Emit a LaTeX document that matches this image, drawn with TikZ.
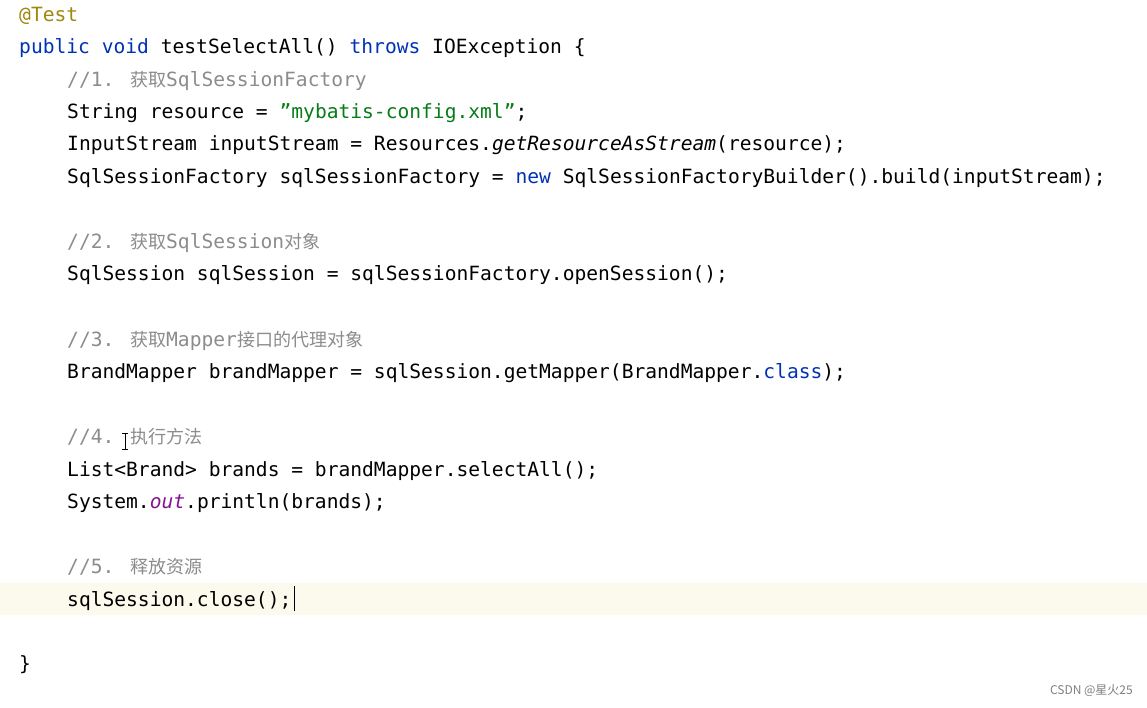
\documentclass[tikz,border=0pt]{standalone}
\usepackage{fontspec}
\setmainfont{DejaVu Sans Mono}[Ligatures=NoCommon]
\newfontfamily\cjk{Noto Sans CJK SC}[Scale=0.92]
\newfontfamily\wm{Noto Sans CJK SC}
\definecolor{ann}{HTML}{9E880D}
\definecolor{kw}{HTML}{0033B3}
\definecolor{str}{HTML}{067D17}
\definecolor{cmt}{HTML}{8C8C8C}
\definecolor{fld}{HTML}{871094}
\definecolor{hl}{HTML}{FCFAED}
\newcommand{\K}[1]{\textcolor{kw}{#1}}
\newcommand{\C}[1]{\textcolor{cmt}{#1}}
\newcommand{\Z}[1]{{\cjk #1}}
\begin{document}
\begin{tikzpicture}[x=1pt,y=-1pt,
  code/.style={anchor=base west,inner sep=0,font=\fontsize{19.6}{22}\selectfont,text=black}]
\useasboundingbox[fill=white] (0,0) rectangle (1147,707);
\fill[hl] (0,583) rectangle (1147,615);
\node[code] (l1) at (19,21) {\textcolor{ann}{@Test}};
\node[code] (l2) at (19,53) {\K{public} \K{void} testSelectAll() \K{throws} IOException \{};
\node[code] (l3) at (67,86) {\C{//1. \Z{获取}SqlSessionFactory}};
\node[code] (l4) at (67,118) {String resource = \textcolor{str}{"mybatis-config.xml"};};
\node[code] (l5) at (67,150) {InputStream inputStream = Resources.\textit{getResourceAsStream}(resource);};
\node[code] (l6) at (67,183) {SqlSessionFactory sqlSessionFactory = \K{new} SqlSessionFactoryBuilder().build(inputStream);};
\node[code] (l7) at (67,248) {\C{//2. \Z{获取}SqlSession\Z{对象}}};
\node[code] (l8) at (67,280) {SqlSession sqlSession = sqlSessionFactory.openSession();};
\node[code] (l9) at (67,346) {\C{//3. \Z{获取}Mapper\Z{接口的代理对象}}};
\node[code] (l10) at (67,378) {BrandMapper brandMapper = sqlSession.getMapper(BrandMapper.\K{class});};
\node[code] (l11) at (67,443) {\C{//4. \Z{执行方法}}};
\node[code] (l12) at (67,476) {List<Brand> brands = brandMapper.selectAll();};
\node[code] (l13) at (67,508) {System.\textcolor{fld}{\textit{out}}.println(brands);};
\node[code] (l14) at (67,573) {\C{//5. \Z{释放资源}}};
\node[code] (l15) at (67,606) {sqlSession.close();};
\node[code] (l16) at (19,670) {\}};
\draw[line width=1.6pt] ([xshift=3pt]l15.base east) ++(0,5) coordinate (c1) -- ++(0,-25) coordinate (c2);
% I-beam mouse cursor
\coordinate (ib) at (125,441);
\draw[line width=0.9pt] ([yshift=-8]ib) -- ([yshift=8]ib)
  ([xshift=-3,yshift=-8]ib) -- ([xshift=3,yshift=-8]ib)
  ([xshift=-3,yshift=8]ib) -- ([xshift=3,yshift=8]ib);
\node[anchor=east,inner sep=0,text=gray,font=\wm\fontsize{12}{14}\selectfont] (wmk) at (1133,691) {CSDN @星火25};
\end{tikzpicture}
\end{document}
